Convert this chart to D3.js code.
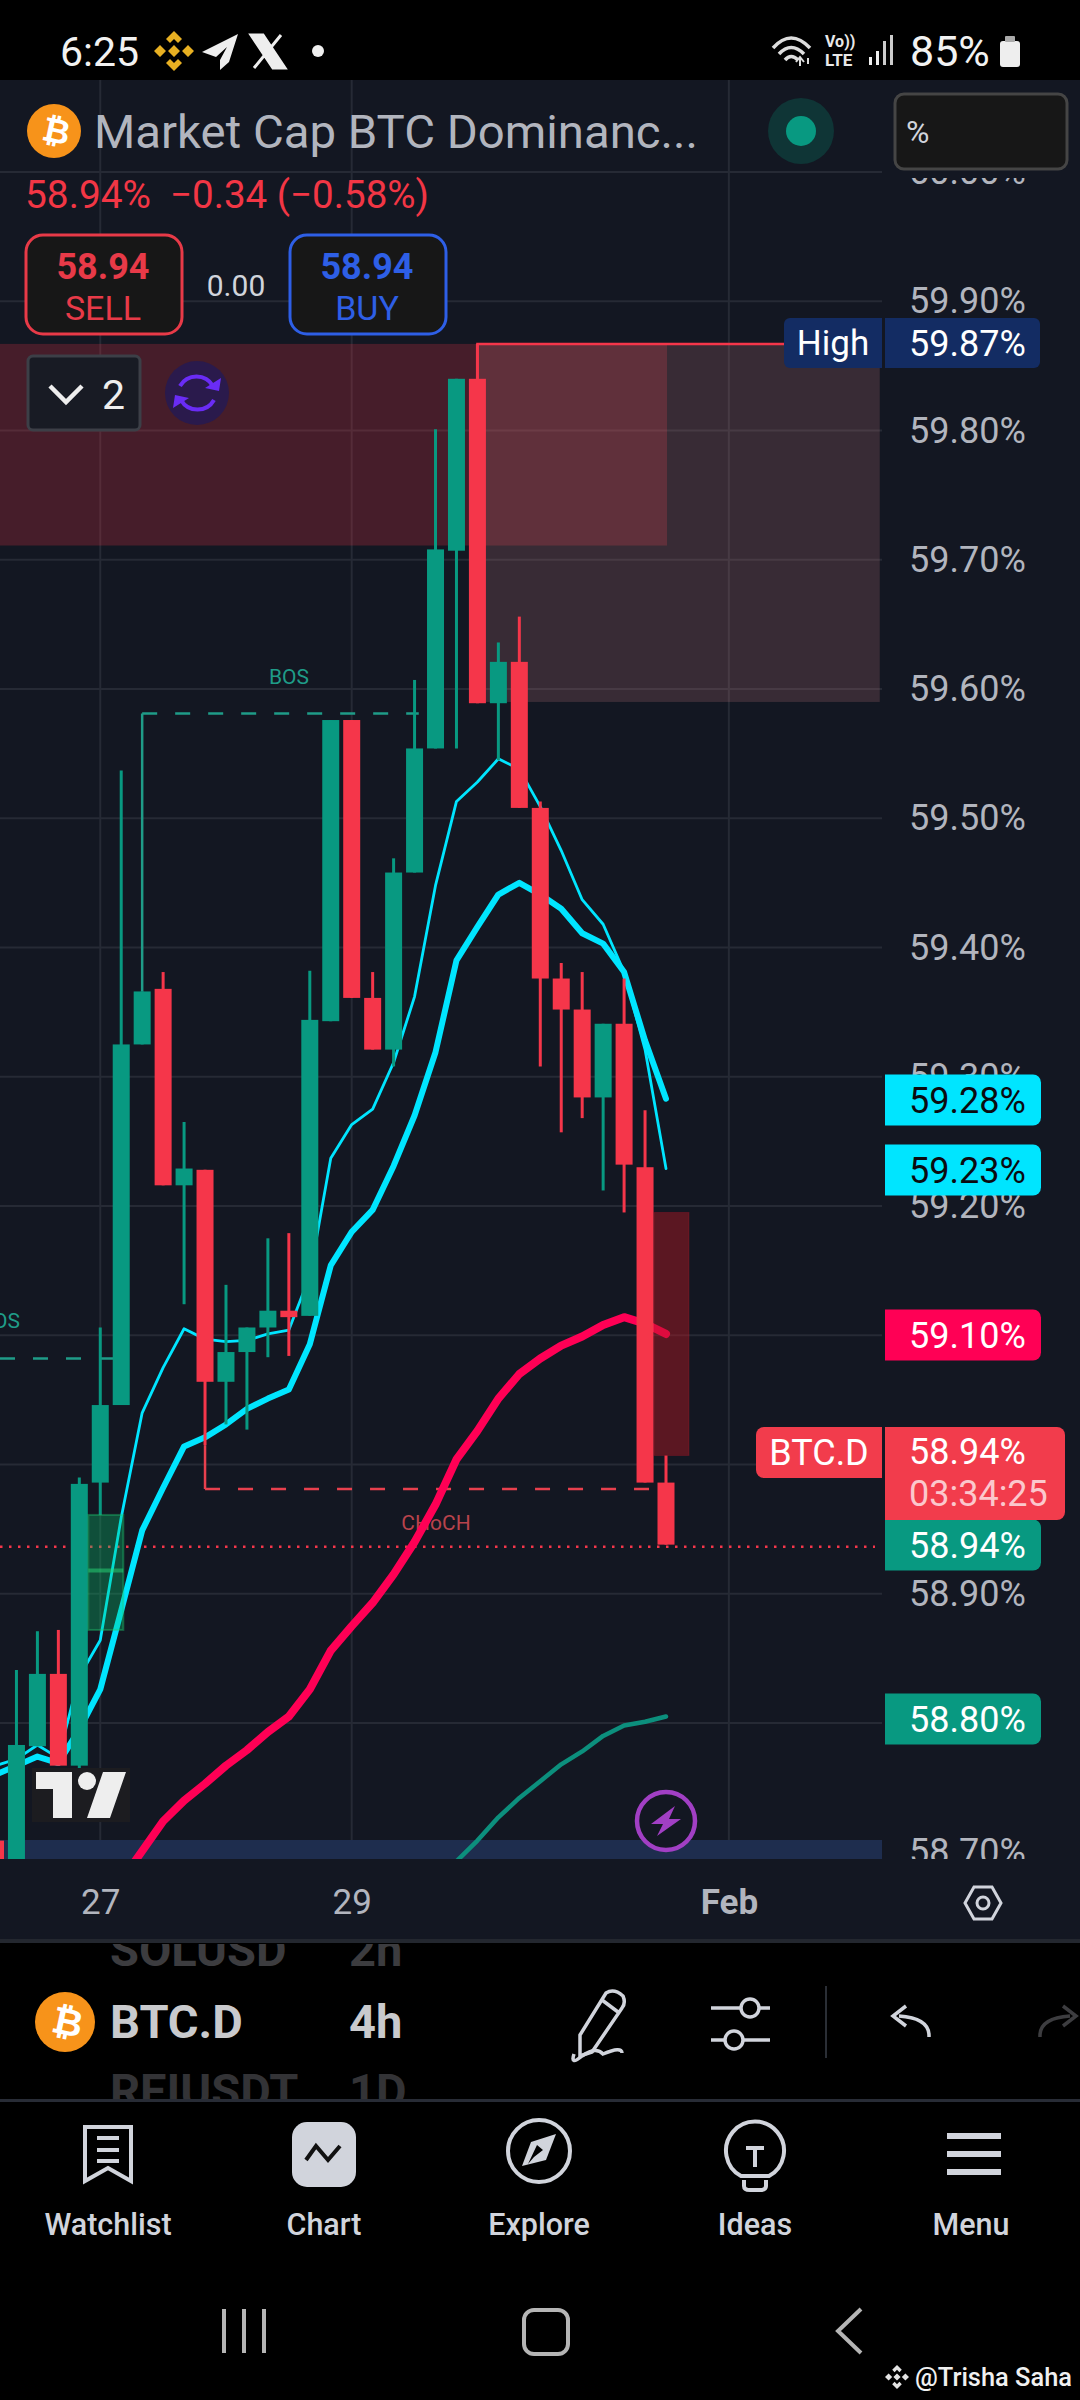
<!DOCTYPE html>
<html><head><meta charset="utf-8">
<script src="https://cdn.jsdelivr.net/npm/d3@7"></script>
<style>html,body{margin:0;padding:0;background:#000}svg{display:block}text{font-family:Roboto,sans-serif}</style>
</head><body><svg id="c" width="1080" height="2400" viewBox="0 0 1080 2400"></svg>
<script>
// ---------- data ----------
const candleOpen  = [58.709,58.663,58.782,58.838,58.767,58.986,59.046,59.325,59.368,59.216,59.228,59.064,59.087,59.106,59.119,59.115,59.343,59.576,59.361,59.321,59.458,59.554,59.707,59.840,59.589,59.621,59.508,59.376,59.352,59.284,59.341,59.230,58.986];
const candleHigh  = [58.709,58.841,58.871,58.872,58.990,59.106,59.537,59.366,59.381,59.265,59.228,59.139,59.106,59.175,59.179,59.382,59.576,59.576,59.381,59.469,59.607,59.801,59.840,59.867,59.636,59.656,59.513,59.388,59.381,59.341,59.376,59.274,59.007];
const candleLow   = [58.663,58.663,58.782,58.767,58.764,58.961,59.046,59.325,59.216,59.124,59.015,59.031,59.027,59.083,59.084,59.115,59.343,59.361,59.321,59.308,59.458,59.554,59.554,59.589,59.545,59.508,59.308,59.257,59.268,59.212,59.195,58.986,58.938];
const candleClose = [58.663,58.783,58.838,58.767,58.985,59.046,59.325,59.366,59.216,59.229,59.064,59.087,59.106,59.119,59.114,59.344,59.576,59.361,59.321,59.458,59.554,59.708,59.840,59.589,59.621,59.508,59.376,59.352,59.284,59.341,59.232,58.986,58.938];
const maFast = [58.767,58.772,58.783,58.773,58.836,58.864,58.959,59.040,59.075,59.105,59.097,59.095,59.096,59.101,59.104,59.146,59.237,59.263,59.275,59.311,59.362,59.448,59.513,59.528,59.546,59.538,59.509,59.475,59.437,59.418,59.381,59.321,59.229];
const maMid  = [58.760,58.767,58.774,58.769,58.795,58.826,58.887,58.949,58.982,59.014,59.021,59.031,59.043,59.051,59.058,59.093,59.154,59.180,59.197,59.231,59.270,59.319,59.390,59.416,59.441,59.450,59.441,59.430,59.411,59.403,59.381,59.328,59.283];
const maSlowStart = 6;
const maSlow = [58.678,58.701,58.724,58.740,58.753,58.767,58.779,58.793,58.805,58.826,58.856,58.875,58.893,58.915,58.940,58.969,59.004,59.026,59.051,59.070,59.082,59.092,59.099,59.108,59.114,59.109,59.101];
const maLongStart = 21;
const maLong = [58.673,58.693,58.709,58.727,58.742,58.755,58.768,58.778,58.790,58.798,58.801,58.805];
const priceTicks = [58.7,58.8,58.9,59.0,59.1,59.2,59.3,59.4,59.5,59.6,59.7,59.8,59.9,60.0];
const timeTickIndex = [5,17,35];
const timeTickLabels = ["27","29","Feb"];
const lastPrice = 58.938, highPrice = 59.867;
const tagTexts = ["59.28%","59.23%","59.10%","58.94%","58.80%"];
const tagValues = [59.283,59.229,59.101,58.938,58.805];
const tagFills = ["#00e5ff","#00e5ff","#ff0055","#089981","#089981"];
const tagInk = ["#0b0b10","#0b0b10","#ffffff","#ffffff","#ffffff"];
const zoneA = {from:-1, to:32.05, hi:59.867, lo:59.711};
const zoneB = {from:23, to:42.2, hi:59.867, lo:59.590};
const navLabels = ["Watchlist","Chart","Explore","Ideas","Menu"];
const navX = [108,324,539,755,971];

// ---------- scales ----------
const svg = d3.select("#c");
const BG="#131722", UP="#089981", DOWN="#f5364a", LABEL="#b2b5be";
const PANEL_R=882, PANEL_B=1859, PANEL_T=80;
const x = d3.scaleLinear().domain([0,32]).range([-4.5,666]);
const y = d3.scaleLinear().domain([58.8,60.0]).range([1723,172]);
const defs = svg.append("defs");
defs.append("clipPath").attr("id","plot").append("rect").attr("x",0).attr("y",PANEL_T).attr("width",PANEL_R).attr("height",PANEL_B-PANEL_T);
defs.append("clipPath").attr("id","yax").append("rect").attr("x",PANEL_R).attr("y",178).attr("width",198).attr("height",PANEL_B-178);
defs.append("clipPath").attr("id","ghost").append("rect").attr("x",0).attr("y",1944).attr("width",1080).attr("height",155);

svg.append("rect").attr("width",1080).attr("height",2400).attr("fill","#000");
svg.append("rect").attr("y",PANEL_T).attr("width",1080).attr("height",1941-PANEL_T).attr("fill",BG);
svg.append("rect").attr("y",1939).attr("width",1080).attr("height",4).attr("fill","#23272f");

const plot = svg.append("g").attr("clip-path","url(#plot)");
// grid
plot.append("g").selectAll("line").data(priceTicks).join("line")
 .attr("x1",0).attr("x2",PANEL_R).attr("y1",d=>y(d)).attr("y2",d=>y(d)).attr("stroke","#262a35").attr("stroke-width",2);
plot.append("g").selectAll("line").data(timeTickIndex).join("line")
 .attr("x1",d=>x(d)).attr("x2",d=>x(d)).attr("y1",PANEL_T).attr("y2",PANEL_B).attr("stroke","#262a35").attr("stroke-width",2);
// bottom band
plot.append("rect").attr("x",0).attr("width",PANEL_R).attr("y",1840).attr("height",20).attr("fill","#1e2d4e");
// supply zones
function zone(z,fill){plot.append("rect").attr("x",x(z.from)).attr("width",x(z.to)-x(z.from)).attr("y",y(z.hi)).attr("height",y(z.lo)-y(z.hi)).attr("fill",fill);}
zone(zoneA,"rgba(242,54,69,0.23)");
zone(zoneB,"rgba(190,120,125,0.22)");

// dashed structure lines
const dash = (x1,y1,x2,y2,c,da)=>plot.append("line").attr("x1",x1).attr("y1",y1).attr("x2",x2).attr("y2",y2).attr("stroke",c).attr("stroke-width",2.5).attr("stroke-dasharray",da||null);
const TEAL_L="#1f9c88", RED_L="#e8404e";
dash(x(7),y(59.581),x(20.2),y(59.581),TEAL_L,"15 18");
dash(x(7),y(59.581),x(7),y(59.366),TEAL_L);
dash(0,y(59.082),x(5.7),y(59.082),TEAL_L,"15 18");
dash(x(10),y(58.981),x(31.3),y(58.981),RED_L,"15 18");
dash(x(10),y(59.015),x(10),y(58.981),RED_L);
plot.append("text").text("BOS").attr("x",289).attr("y",684).attr("text-anchor","middle").attr("font-size",21).attr("fill",TEAL_L);
plot.append("text").text("BOS").attr("x",0).attr("y",y(59.082)-31).attr("text-anchor","middle").attr("font-size",21).attr("fill",TEAL_L);
plot.append("text").text("CHoCH").attr("x",436).attr("y",1530).attr("text-anchor","middle").attr("font-size",21).attr("fill","#b8434c");
// last price dotted
plot.append("line").attr("x1",0).attr("x2",875).attr("y1",y(lastPrice)+2).attr("y2",y(lastPrice)+2).attr("stroke","#f5364a").attr("stroke-width",2.5).attr("stroke-dasharray","2.5 6.5");
// high line
plot.append("path").attr("d",`M${x(23)},${y(59.84)}V${y(highPrice)}H${PANEL_R}`).attr("fill","none").attr("stroke",DOWN).attr("stroke-width",2.5);

// moving averages
const line=(start)=>d3.line().x((d,i)=>x(i+start)).y(d=>y(d));
const drawMa=(arr,start,col,w)=>plot.append("path").attr("d",line(start)(arr)).attr("fill","none").attr("stroke",col).attr("stroke-width",w).attr("stroke-linecap","round").attr("stroke-linejoin","round");
drawMa(maLong,maLongStart,"#0c8f7d",4.5);
drawMa(maSlow,maSlowStart,"#ff0055",8);
drawMa(maMid,0,"#00e5ff",6);
drawMa(maFast,0,"#00e5ff",2.8);

// candles
const idx = d3.range(candleOpen.length);
const col = i=>candleClose[i]>=candleOpen[i]?UP:DOWN;
plot.append("g").selectAll("line").data(idx).join("line").attr("x1",i=>x(i)).attr("x2",i=>x(i))
 .attr("y1",i=>y(candleHigh[i])).attr("y2",i=>y(candleLow[i])).attr("stroke",col).attr("stroke-width",3);
plot.append("g").selectAll("rect").data(idx).join("rect").attr("x",i=>x(i)-8.5).attr("width",17)
 .attr("y",i=>y(Math.max(candleOpen[i],candleClose[i]))).attr("height",i=>Math.max(4,Math.abs(y(candleOpen[i])-y(candleClose[i])))).attr("fill",col);

// order blocks
plot.append("rect").attr("x",x(4)+9).attr("width",35).attr("y",y(58.961)).attr("height",y(58.872)-y(58.961)).attr("fill","rgba(10,200,110,0.32)").attr("stroke","rgba(30,200,110,.4)").attr("stroke-width",2);
plot.append("line").attr("x1",x(4)+9).attr("x2",x(4)+44).attr("y1",y(58.918)).attr("y2",y(58.918)).attr("stroke","rgba(40,220,120,.5)").attr("stroke-width",4);
plot.append("rect").attr("x",654).attr("width",35).attr("y",y(59.195)).attr("height",y(59.007)-y(59.195)).attr("fill","rgba(180,25,35,0.45)").attr("stroke","rgba(200,25,45,.25)");

// TV logo
const logo = plot.append("g").attr("transform","translate(32,1768)");
logo.append("rect").attr("width",98).attr("height",54).attr("fill","#1c1c20");
logo.append("path").attr("fill","#eeeeee").attr("d","M4 4H40V50H21V21H4Z M94 4H71L55 50H78Z");
logo.append("circle").attr("cx",55).attr("cy",13).attr("r",9).attr("fill","#eeeeee");
// lightning
const bolt = plot.append("g").attr("transform","translate(666,1821)");
bolt.append("circle").attr("r",29).attr("fill",BG).attr("stroke","#a13fc4").attr("stroke-width",4.5);
bolt.append("path").attr("fill","#a13fc4").attr("d","M9 -15L-15 3H-3L-9 15L15 -2H3Z");

// ---------- y axis ----------
const yAxis = svg.append("g").attr("clip-path","url(#yax)").append("g").attr("transform",`translate(${909},0)`)
 .call(d3.axisRight(y).tickValues(priceTicks).tickSize(0).tickPadding(0).tickFormat(d=>d3.format(".2f")(d)+"%"));
yAxis.select(".domain").remove();
yAxis.selectAll("text").attr("font-size",36).attr("fill",LABEL).attr("font-family","Roboto");

// ---------- x axis ----------
const xAxis = svg.append("g").attr("transform","translate(0,1889)")
 .call(d3.axisBottom(x).tickValues(timeTickIndex).tickSize(0).tickPadding(0).tickFormat((d,i)=>timeTickLabels[i]));
xAxis.select(".domain").remove();
xAxis.selectAll("text").attr("font-size",35).attr("fill",LABEL).attr("font-family","Roboto").attr("font-weight",(d,i)=>i==2?700:400).attr("dy","0.7em");
svg.append("path").attr("d","M965 1903l9-16h18l9 16l-9 16h-18Z").attr("fill","none").attr("stroke","#d1d4dc").attr("stroke-width",3);
svg.append("circle").attr("cx",983).attr("cy",1903).attr("r",6).attr("fill","none").attr("stroke","#d1d4dc").attr("stroke-width",3);

// ---------- price tags ----------
const tagY = [1100,1170,1335,1545,1719];
const tags = svg.append("g");
tagTexts.forEach((t,i)=>{
  const g=tags.append("g");
  const cy = tagY[i];
  g.append("path").attr("d",`M885 ${cy-25.5}H1033a8 8 0 0 1 8 8V${cy+17.5}a8 8 0 0 1 -8 8H885Z`).attr("fill",tagFills[i]);
  g.append("text").text(t).attr("x",909).attr("y",cy+13).attr("font-size",36).attr("fill",tagInk[i]);
});
// BTC.D tag
tags.append("path").attr("d","M885 1427H1057a8 8 0 0 1 8 8V1512a8 8 0 0 1 -8 8H885Z").attr("fill","#f23c4c");
tags.append("text").text("58.94%").attr("x",909).attr("y",1464).attr("font-size",36).attr("fill","#fff");
tags.append("text").text("03:34:25").attr("x",909).attr("y",1506).attr("font-size",36).attr("fill","#fbc8cd");
tags.append("path").attr("d","M764 1427H882V1478H764a8 8 0 0 1 -8 -8V1435a8 8 0 0 1 8 -8Z").attr("fill","#f23c4c");
tags.append("text").text("BTC.D").attr("x",819).attr("y",1465).attr("font-size",36).attr("text-anchor","middle").attr("fill","#fff");
// High tag
tags.append("path").attr("d","M790 318H882V368H790a6 6 0 0 1 -6 -6V324a6 6 0 0 1 6 -6Z").attr("fill","#132c63");
tags.append("text").text("High").attr("x",833).attr("y",355).attr("font-size",35).attr("text-anchor","middle").attr("fill","#fff");
tags.append("path").attr("d","M885 318H1034a6 6 0 0 1 6 6V362a6 6 0 0 1 -6 6H885Z").attr("fill","#132c63");
tags.append("text").text("59.87%").attr("x",909).attr("y",356).attr("font-size",36).attr("fill","#fff");

// ---------- status bar ----------
const T=(s,xx,yy,size,fill,opt={})=>{const t=svg.append("text").text(s).attr("x",xx).attr("y",yy).attr("font-size",size).attr("fill",fill);
  if(opt.w)t.attr("font-weight",opt.w); if(opt.a)t.attr("text-anchor",opt.a); if(opt.clip)t.attr("clip-path",opt.clip); if(opt.len)t.attr("textLength",opt.len).attr("lengthAdjust","spacingAndGlyphs"); return t;};
T("6:25",60,66,41,"#f2f2f2");
const binance=(tx,ty,s,c)=>{const g=svg.append("g").attr("transform",`translate(${tx},${ty}) scale(${s})`).attr("fill",c);
  g.append("path").attr("d","M0 -20L8 -12L4 -8L0 -12L-4 -8L-8 -12Z M0 20L8 12L4 8L0 12L-4 8L-8 12Z M-20 0L-14 -6L-8 0L-14 6Z M20 0L14 -6L8 0L14 6Z M0 -6L6 0L0 6L-6 0Z");};
binance(174,51,1,"#e8b022");
svg.append("path").attr("d","M238 34L202 52L216 57L227 47L220 60V70L229 62Z").attr("fill","#eeeeee");
svg.append("path").attr("d","M251 35H263L285 68H273Z M281 35L254 68").attr("fill","#eee").attr("stroke","#eee").attr("stroke-width",3);
svg.append("circle").attr("cx",318).attr("cy",51).attr("r",6).attr("fill","#f0f0f0");
const wifi = svg.append("g").attr("fill","none").attr("stroke","#dddddd").attr("stroke-width",3.5);
wifi.append("path").attr("d","M773 48Q791 28 810 48"); wifi.append("path").attr("d","M779 54Q791 41 804 54"); wifi.append("path").attr("d","M785 60Q791 53 798 60");
wifi.append("path").attr("d","M800 58V66M808 64V58M796 62L800 57L804 62").attr("stroke-width",2);
T("Vo))",825,47,16,"#e8e8e8",{w:700}); T("LTE",825,66,17,"#e8e8e8",{w:700});
[[869,8],[876,14],[883,24],[890,30]].forEach(([a,h])=>svg.append("rect").attr("x",a).attr("y",65-h).attr("width",3).attr("height",h).attr("fill",a>880?"#cccccc":"#eeeeee"));
T("85%",910,66,43,"#f2f2f2");
svg.append("rect").attr("x",1000).attr("y",41).attr("width",20).attr("height",26).attr("rx",3).attr("fill","#eeeeee");
svg.append("rect").attr("x",1005).attr("y",36).attr("width",10).attr("height",6).attr("rx",1).attr("fill","#aaaaaa");

// ---------- chart header overlay ----------
const btc=(cx,cy,r)=>{svg.append("circle").attr("cx",cx).attr("cy",cy).attr("r",r).attr("fill","#f7931a");
  svg.append("text").text("₿").attr("transform",`translate(${cx},${cy+r*0.42}) rotate(12)`).attr("text-anchor","middle").attr("font-size",r*1.25).attr("font-weight",700).attr("fill","#fff").attr("font-family","DejaVu Sans");};
btc(54,131,27);
T("Market Cap BTC Dominanc...",94,148,47,LABEL,{len:604});
svg.append("circle").attr("cx",801).attr("cy",131).attr("r",33).attr("fill","#0f3536");
svg.append("circle").attr("cx",801).attr("cy",131).attr("r",15).attr("fill","#089981");
svg.append("rect").attr("x",895).attr("y",94).attr("width",172).attr("height",75).attr("rx",9).attr("fill","#171717").attr("stroke","#454545").attr("stroke-width",3);
T("%",906,143,32,"#d1d4dc");
T("58.94%",25,208,39,"#f23645",{len:126}); T("−0.34 (−0.58%)",170,208,39,"#f23645",{len:259});
// sell/buy
const btn=(bx,c,lab)=>{svg.append("rect").attr("x",bx).attr("y",235).attr("width",156).attr("height",99).attr("rx",17).attr("fill","#171717").attr("stroke",c).attr("stroke-width",3);
  T("58.94",bx+77,279,36,c,{w:700,a:"middle"}); T(lab,bx+77,320,34,c,{a:"middle"});};
btn(26,"#e83a48","SELL"); btn(290,"#2e5fe6","BUY");
T("0.00",236,296,30,"#d1d4dc",{a:"middle"});
// collapse + refresh
svg.append("rect").attr("x",28).attr("y",356).attr("width",112).attr("height",74).attr("rx",5).attr("fill","#181b24").attr("stroke","#3c3f47").attr("stroke-width",3);
svg.append("path").attr("d","M50 386L66 402L82 386").attr("fill","none").attr("stroke","#eeeeee").attr("stroke-width",4.5);
T("2",102,409,41,"#eeeeee");
svg.append("circle").attr("cx",197).attr("cy",393).attr("r",32).attr("fill","#2a1a4c");
const rf = svg.append("g").attr("fill","none").attr("stroke","#6a2cf5").attr("stroke-width",4);
rf.append("path").attr("d","M180 386A19 19 0 0 1 213 386"); rf.append("path").attr("d","M214 400A19 19 0 0 1 181 400");
svg.append("path").attr("d","M205 388L219 391L221 378Z M189 398L175 395L173 408Z").attr("fill","#6a2cf5");

// ---------- bottom toolbar ----------
T("SOLUSD",110,1966,47,"#3c3c3f",{w:700,clip:"url(#ghost)"}); T("2h",349,1966,47,"#3c3c3f",{w:700,clip:"url(#ghost)"});
T("REIUSDT",110,2107,47,"#333336",{w:700,clip:"url(#ghost)"}); T("1D",349,2107,47,"#333336",{w:700,clip:"url(#ghost)"});
btc(65,2022,30);
T("BTC.D",110,2038,47,"#c9cacd",{w:700}); T("4h",349,2038,47,"#c9cacd",{w:700});
const ic = svg.append("g").attr("fill","none").attr("stroke","#d1d4dc").attr("stroke-width",3.5);
ic.append("path").attr("d","M580 2035L606 1993Q614 1988 623 1996Q626 2003 622 2008L592 2052L580 2056Z M602 2000L618 2012");
ic.append("path").attr("d","M574 2054Q570 2066 582 2056Q596 2046 603 2054Q622 2046 622 2053");
ic.append("path").attr("d","M711 2008H740M760 2008H770M711 2040H725M744 2040H770");
ic.append("circle").attr("cx",750).attr("cy",2008).attr("r",9); ic.append("circle").attr("cx",734).attr("cy",2040).attr("r",9);
svg.append("line").attr("x1",826).attr("x2",826).attr("y1",1986).attr("y2",2058).attr("stroke","#2a2e35").attr("stroke-width",2);
ic.append("path").attr("d","M929 2037Q930 2018 899 2016M906 2006L893 2016L906 2026");
svg.append("path").attr("d","M1040 2037Q1039 2018 1070 2016M1063 2006L1076 2016L1063 2026").attr("fill","none").attr("stroke","#3d3d40").attr("stroke-width",3.5);
svg.append("rect").attr("y",2099).attr("width",1080).attr("height",3).attr("fill","#282c36");

// ---------- tab bar ----------
navLabels.forEach((n,i)=>T(n,navX[i],2235,30.5,"#d1d4dc",{a:"middle",w:500}));
const nav = svg.append("g").attr("fill","none").attr("stroke","#d1d4dc").attr("stroke-width",4);
nav.append("path").attr("d","M85 2127H131V2181L108 2168L85 2181Z M97 2138H119M97 2150H119M97 2161H119");
svg.append("rect").attr("x",292).attr("y",2122).attr("width",64).attr("height",65).attr("rx",15).attr("fill","#d1d4dc");
svg.append("path").attr("d","M306 2160L316 2146L328 2160L340 2146").attr("fill","none").attr("stroke","#111").attr("stroke-width",4);
nav.append("circle").attr("cx",539).attr("cy",2151).attr("r",31);
svg.append("path").attr("d","M556 2134L546 2160L522 2166L531 2142Z").attr("fill","#d1d4dc");
svg.append("path").attr("d","M543 2150L534 2157L528 2164L537 2145Z").attr("fill","#000");
nav.append("path").attr("d","M741 2176A29 29 0 1 1 769 2176H741Z M746 2148H764M755 2148V2167 M744 2180V2186Q744 2190 750 2190H760Q766 2190 766 2186V2180");
svg.append("g").attr("fill","#d1d4dc").selectAll("rect").data([2133,2151,2169]).join("rect").attr("x",947).attr("y",d=>d).attr("width",54).attr("height",6);

// ---------- android nav ----------
const an = svg.append("g").attr("fill","none").attr("stroke","#b5b5b5").attr("stroke-width",4);
an.append("path").attr("d","M224 2309V2353M244 2309V2353M264 2309V2353");
an.append("rect").attr("x",524).attr("y",2310).attr("width",44).attr("height",44).attr("rx",10);
an.append("path").attr("d","M861 2309L838 2331L861 2353");
binance(897,2377,0.6,"#e4e4e4");
T("@Trisha Saha",915,2386,26,"#f0f0f0",{w:500,len:157});
</script></body></html>
